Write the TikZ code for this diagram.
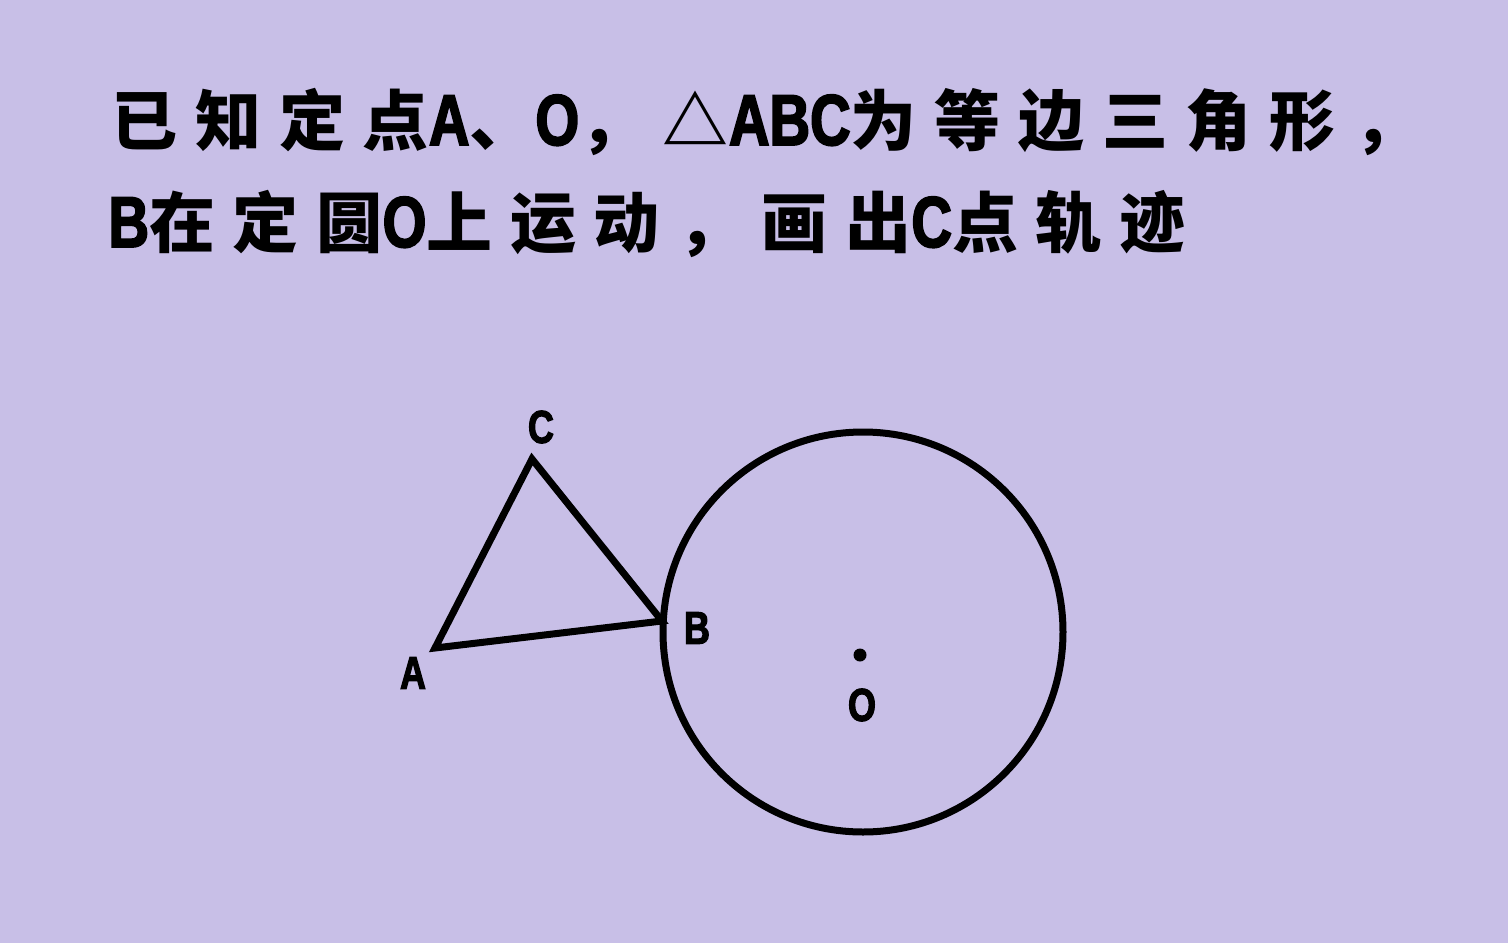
\documentclass[tikz,border=0pt]{standalone}
\usepackage{fontspec}
\usepackage{xcolor}
\newfontfamily\cjk{Noto Sans CJK SC}[LetterSpace=27]
\newfontfamily\lat{Liberation Sans Bold}[FakeStretch=0.78,FakeBold=2.5]
\definecolor{bglilac}{RGB}{200,191,231}

\begin{document}
\begin{tikzpicture}[x=1pt,y=-1pt,line width=7pt,
                    title line/.style={anchor=base west,inner sep=0pt},
                    point label/.style={inner sep=0pt,font=\lat\fontsize{46}{46}\selectfont}]

    % background and bounding box
    \fill[bglilac] (0,0) rectangle (1508,943);
    \useasboundingbox (0,0) rectangle (1508,943);

    \newcommand\latin[1]{{\lat\fontsize{72}{72}\selectfont #1}}

    \node[title line] (line1) at (108,145)
        {\cjk\bfseries\fontsize{66}{66}\selectfont 已知定点\latin{A}、\latin{O}，△\latin{ABC}为等边三角形，};
    \node[title line] (line2) at (105,247)
        {\cjk\bfseries\fontsize{66}{66}\selectfont \latin{B}在定圆\latin{O}上运动，画出\latin{C}点轨迹};

    \coordinate (A) at (435,648);
    \coordinate (B) at (662,621);
    \coordinate (C) at (532,459);
    \coordinate (ctr) at (863,632);

    \draw[line join=miter] (A) -- (B) -- (C) -- cycle;
    \draw (ctr) circle[radius=200];
    \node[circle,fill,inner sep=0pt,minimum size=13pt] (O) at (860,655) {};

    \node[point label] (labC) at (541,427) {C};
    \node[point label] (labB) at (697,628) {B};
    \node[point label] (labA) at (413,673) {A};
    \node[point label] (labO) at (862,705) {O};
\end{tikzpicture}
\end{document}
